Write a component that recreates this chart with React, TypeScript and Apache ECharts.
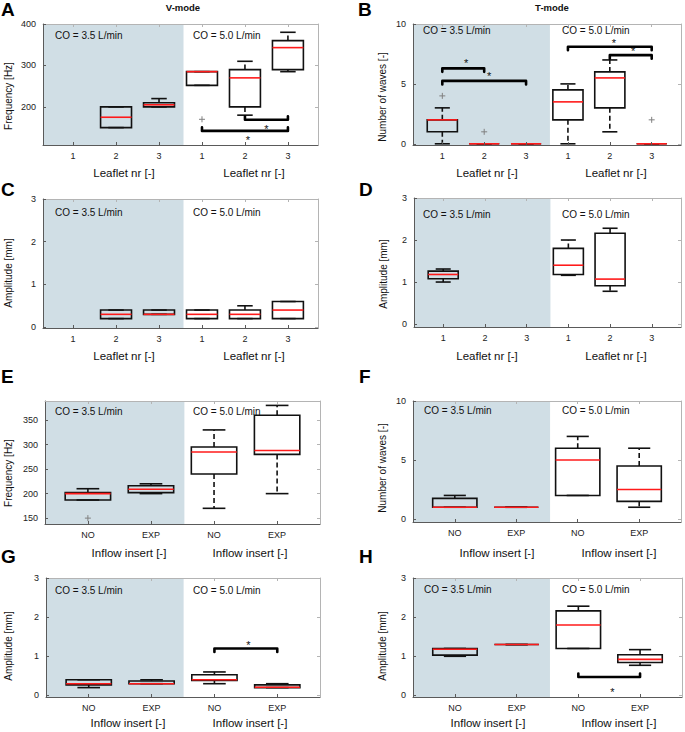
import React, { useEffect, useRef } from "react";
import * as echarts from "echarts";

// ---------- DATA ----------
const leafletLabels = ["1", "2", "3", "1", "2", "3"];
const inflowLabels = ["NO", "EXP", "NO", "EXP"];

// boxes: [position, lower whisker, Q1, median, Q3, upper whisker]
// brackets: [x1, x2, level, starX, starY, endsDirection(+1 up / -1 down)]

// A: V-mode frequency per leaflet
const freqLeafletYTicks = [200, 300, 400];
const freqLeafletBoxes = [
  [2, 150, 150, 175, 200, 200],
  [3, 200, 200, 205, 210, 220],
  [4, 252, 252, 285, 285, 285],
  [5, 180, 200, 270, 290, 310],
  [6, 285, 290, 343, 360, 380],
];
const freqLeafletOutliers = [[4, 170]];
const freqLeafletBrackets = [
  [5, 6, 169, 5.5, 152, 1],
  [4, 6, 142, 5.07, 125, 1],
];

// B: T-mode number of waves per leaflet
const wavesLeafletYTicks = [0, 5, 10];
const wavesLeafletBoxes = [
  [1, 0, 1, 2, 2, 3],
  [2, 0, 0, 0, 0, 0],
  [3, 0, 0, 0, 0, 0],
  [4, 0, 2, 3.5, 4.5, 5],
  [5, 1, 3, 5.5, 6, 7],
  [6, 0, 0, 0, 0, 0],
];
const wavesLeafletOutliers = [[1, 4], [2, 1], [6, 2]];
const wavesLeafletBrackets = [
  [1, 2, 6.3, 1.57, 6.95, -1],
  [1, 3, 5.25, 2.12, 5.85, -1],
  [4, 6, 8.1, 5.1, 8.6, -1],
  [5, 6, 7.4, 5.56, 7.9, -1],
];

// C: V-mode amplitude per leaflet
const ampVLeafletYTicks = [0, 1, 2, 3];
const ampVLeafletBoxes = [
  [2, 0.2, 0.2, 0.3, 0.4, 0.4],
  [3, 0.3, 0.3, 0.3, 0.4, 0.4],
  [4, 0.2, 0.2, 0.3, 0.4, 0.4],
  [5, 0.2, 0.2, 0.3, 0.4, 0.5],
  [6, 0.2, 0.2, 0.4, 0.6, 0.6],
];

// D: T-mode amplitude per leaflet
const ampTLeafletYTicks = [0, 1, 2, 3];
const ampTLeafletBoxes = [
  [1, 1.0, 1.08, 1.18, 1.26, 1.31],
  [4, 1.16, 1.18, 1.4, 1.8, 2.0],
  [5, 0.78, 0.91, 1.07, 2.16, 2.28],
];

// E: V-mode frequency per inflow insert
const freqInflowYTicks = [150, 200, 250, 300, 350];
const freqInflowBoxes = [
  [1, 187, 187, 200, 202, 210],
  [2, 200, 202, 209, 216, 220],
  [3, 170, 240, 285, 295, 330],
  [4, 200, 280, 288, 360, 380],
];
const freqInflowOutliers = [[1, 150]];

// F: T-mode number of waves per inflow insert
const wavesInflowYTicks = [0, 5, 10];
const wavesInflowBoxes = [
  [1, 1, 1, 1, 1.75, 2],
  [2, 1, 1, 1, 1, 1],
  [3, 2, 2, 5, 6, 7],
  [4, 1, 1.5, 2.5, 4.5, 6],
];

// G: V-mode amplitude per inflow insert
const ampVInflowYTicks = [0, 1, 2, 3];
const ampVInflowBoxes = [
  [1, 0.2, 0.27, 0.3, 0.4, 0.4],
  [2, 0.3, 0.3, 0.3, 0.37, 0.4],
  [3, 0.3, 0.38, 0.4, 0.53, 0.6],
  [4, 0.2, 0.2, 0.21, 0.27, 0.3],
];
const ampVInflowBrackets = [[3, 4, 1.2, 3.54, 1.34, -1]];

// H: T-mode amplitude per inflow insert
const ampTInflowYTicks = [0, 1, 2, 3];
const ampTInflowBoxes = [
  [1, 1.0, 1.03, 1.18, 1.2, 1.2],
  [2, 1.3, 1.3, 1.3, 1.3, 1.3],
  [3, 1.2, 1.2, 1.8, 2.16, 2.28],
  [4, 0.77, 0.84, 0.92, 1.04, 1.17],
];
const ampTInflowBrackets = [[3, 4, 0.47, 3.55, 0.15, 1]];

const coLow = "CO = 3.5 L/min";
const coHigh = "CO = 5.0 L/min";

// ---------- LAYOUT ----------
const FONT = "'Liberation Sans', Arial, Helvetica, sans-serif";
const BOX_W = 0.72;
const SHADE = "#d0dee5";

type Panel = {
  letter: string;
  grid: number[];
  xRange: number[];
  yRange: number[];
  yTicks: number[];
  xLabels: string[];
  shadeEnd: number;
  boxes: number[][];
  outliers: number[][];
  brackets: number[][];
  yName: string;
  xName: string;
  letterPos: number[];
  yNamePos: number[];
  xNamePos: number[][];
  coPos: number[][];
};

const panels: Panel[] = [
  {
    letter: "A", grid: [43, 24, 275, 121], xRange: [0.3, 6.7], yRange: [108, 400],
    yTicks: freqLeafletYTicks, xLabels: leafletLabels, shadeEnd: 3.57,
    boxes: freqLeafletBoxes, outliers: freqLeafletOutliers, brackets: freqLeafletBrackets,
    yName: "Frequency [Hz]", xName: "Leaflet nr [-]",
    letterPos: [1, 9], yNamePos: [8, 96], xNamePos: [[124, 173], [254, 173]], coPos: [[55, 35], [193, 35]],
  },
  {
    letter: "B", grid: [413, 24, 268, 121], xRange: [0.3, 6.7], yRange: [-0.1, 10],
    yTicks: wavesLeafletYTicks, xLabels: leafletLabels, shadeEnd: 3.57,
    boxes: wavesLeafletBoxes, outliers: wavesLeafletOutliers, brackets: wavesLeafletBrackets,
    yName: "Number of waves [-]", xName: "Leaflet nr [-]",
    letterPos: [358, 9], yNamePos: [382, 97], xNamePos: [[487, 173], [616, 173]], coPos: [[423, 30], [562, 30]],
  },
  {
    letter: "C", grid: [43, 199, 275, 129], xRange: [0.3, 6.7], yRange: [-0.02, 3],
    yTicks: ampVLeafletYTicks, xLabels: leafletLabels, shadeEnd: 3.57,
    boxes: ampVLeafletBoxes, outliers: [], brackets: [],
    yName: "Amplitude [mm]", xName: "Leaflet nr [-]",
    letterPos: [1, 189], yNamePos: [8, 273], xNamePos: [[124, 356], [254, 356]], coPos: [[55, 212], [193, 212]],
  },
  {
    letter: "D", grid: [414, 198, 267, 129], xRange: [0.3, 6.7], yRange: [-0.07, 3],
    yTicks: ampTLeafletYTicks, xLabels: leafletLabels, shadeEnd: 3.57,
    boxes: ampTLeafletBoxes, outliers: [], brackets: [],
    yName: "Amplitude [mm]", xName: "Leaflet nr [-]",
    letterPos: [359, 189], yNamePos: [383, 274], xNamePos: [[487, 356], [616, 356]], coPos: [[423, 214], [562, 214]],
  },
  {
    letter: "E", grid: [45, 401, 275, 123], xRange: [0.32, 4.68], yRange: [138, 389],
    yTicks: freqInflowYTicks, xLabels: inflowLabels, shadeEnd: 2.53,
    boxes: freqInflowBoxes, outliers: freqInflowOutliers, brackets: [],
    yName: "Frequency [Hz]", xName: "Inflow insert [-]",
    letterPos: [1, 376], yNamePos: [8, 473], xNamePos: [[129, 553], [250, 553]], coPos: [[55, 411], [193, 411]],
  },
  {
    letter: "F", grid: [413, 401, 268, 121], xRange: [0.32, 4.68], yRange: [-0.25, 10],
    yTicks: wavesInflowYTicks, xLabels: inflowLabels, shadeEnd: 2.55,
    boxes: wavesInflowBoxes, outliers: [], brackets: [],
    yName: "Number of waves [-]", xName: "Inflow insert [-]",
    letterPos: [359, 376], yNamePos: [382, 468], xNamePos: [[497, 553], [619, 553]], coPos: [[424, 410], [562, 410]],
  },
  {
    letter: "G", grid: [46, 578, 274, 119], xRange: [0.32, 4.68], yRange: [-0.04, 3],
    yTicks: ampVInflowYTicks, xLabels: inflowLabels, shadeEnd: 2.51,
    boxes: ampVInflowBoxes, outliers: [], brackets: ampVInflowBrackets,
    yName: "Amplitude [mm]", xName: "Inflow insert [-]",
    letterPos: [1, 556], yNamePos: [8, 646], xNamePos: [[128, 723], [250, 723]], coPos: [[55, 590], [193, 590]],
  },
  {
    letter: "H", grid: [413, 578, 269, 119], xRange: [0.32, 4.68], yRange: [-0.04, 3],
    yTicks: ampTInflowYTicks, xLabels: inflowLabels, shadeEnd: 2.54,
    boxes: ampTInflowBoxes, outliers: [], brackets: ampTInflowBrackets,
    yName: "Amplitude [mm]", xName: "Inflow insert [-]",
    letterPos: [359, 556], yNamePos: [382, 646], xNamePos: [[488, 723], [619, 723]], coPos: [[424, 589], [562, 589]],
  },
];

// ---------- RENDERERS ----------
function renderShade(params: any, api: any) {
  const cs = params.coordSys;
  const xEnd = api.coord([api.value(1), 0])[0];
  return {
    type: "rect",
    shape: { x: cs.x, y: cs.y, width: xEnd - cs.x, height: cs.height },
    style: { fill: SHADE },
    silent: true,
  };
}

function renderBox(params: any, api: any) {
  const x = api.value(0);
  const lo = api.value(1);
  const q1 = api.value(2);
  const med = api.value(3);
  const q3 = api.value(4);
  const hi = api.value(5);
  const half = api.size([BOX_W, 0])[0] / 2;
  const cap = half / 2;
  const px = api.coord([x, med])[0];
  const Y = (v: number) => api.coord([x, v])[1];
  const stroke = { stroke: "#111", lineWidth: 1.6, fill: "none" };
  const children: any[] = [];
  if (hi > q3)
    children.push({ type: "line", shape: { x1: px, y1: Y(q3), x2: px, y2: Y(hi) }, style: { ...stroke, lineDash: [5, 3] } });
  if (lo < q1)
    children.push({ type: "line", shape: { x1: px, y1: Y(q1), x2: px, y2: Y(lo) }, style: { ...stroke, lineDash: [5, 3] } });
  children.push({ type: "line", shape: { x1: px - cap, y1: Y(hi), x2: px + cap, y2: Y(hi) }, style: stroke });
  children.push({ type: "line", shape: { x1: px - cap, y1: Y(lo), x2: px + cap, y2: Y(lo) }, style: stroke });
  children.push({
    type: "rect",
    shape: { x: px - half, y: Y(q3), width: 2 * half, height: Y(q1) - Y(q3) },
    style: stroke,
  });
  children.push({
    type: "line",
    shape: { x1: px - half, y1: Y(med), x2: px + half, y2: Y(med) },
    style: { stroke: "#ff1a1a", lineWidth: 1.6 },
  });
  return { type: "group", children };
}

function renderOutlier(params: any, api: any) {
  const [px, py] = api.coord([api.value(0), api.value(1)]);
  const a = 3;
  const st = { stroke: "#808080", lineWidth: 1 };
  return {
    type: "group",
    children: [
      { type: "line", shape: { x1: px - a, y1: py, x2: px + a, y2: py }, style: st },
      { type: "line", shape: { x1: px, y1: py - a, x2: px, y2: py + a }, style: st },
    ],
  };
}

function renderBracket(params: any, api: any) {
  const x1 = api.value(0);
  const x2 = api.value(1);
  const lvl = api.value(2);
  const sx = api.value(3);
  const sy = api.value(4);
  const dir = api.value(5);
  const p1 = api.coord([x1, lvl]);
  const p2 = api.coord([x2, lvl]);
  const end = p1[1] - dir * 3.5;
  const s = api.coord([sx, sy]);
  return {
    type: "group",
    children: [
      {
        type: "polyline",
        shape: { points: [[p1[0], end], [p1[0], p1[1]], [p2[0], p2[1]], [p2[0], end]] },
        style: { stroke: "#000", lineWidth: 2.6, fill: "none", lineJoin: "round", lineCap: "round" },
      },
      {
        type: "text",
        x: s[0],
        y: s[1] + 2,
        style: { text: "*", fontSize: 11, fill: "#111", align: "center", verticalAlign: "middle", fontFamily: FONT },
      },
    ],
  };
}

function buildOption() {
  const grid: any[] = [];
  const xAxis: any[] = [];
  const yAxis: any[] = [];
  const series: any[] = [];
  const graphic: any[] = [];

  panels.forEach((p, i) => {
    const [l, t, w, h] = p.grid;
    grid.push({ left: l, top: t, width: w, height: h, containLabel: false, outerBoundsMode: "none" });
    const xTicks = p.xLabels.map((_, k) => k + 1);
    const dark = { color: "#5a5a5a", width: 1 };
    const light = { color: "#b4b4b4", width: 1 };
    xAxis.push({
      gridIndex: i, type: "value", position: "bottom", min: p.xRange[0], max: p.xRange[1], z: 5,
      axisLine: { show: true, onZero: false, lineStyle: dark },
      axisTick: { show: true, inside: true, length: 3, customValues: xTicks, lineStyle: dark },
      axisLabel: {
        show: true, customValues: xTicks, fontSize: 9, color: "#222", fontFamily: FONT, margin: 6,
        formatter: (v: number) => p.xLabels[Math.round(v) - 1] ?? "",
      },
      splitLine: { show: false },
    });
    xAxis.push({
      gridIndex: i, type: "value", position: "top", min: p.xRange[0], max: p.xRange[1], z: 5,
      axisLine: { show: true, onZero: false, lineStyle: light },
      axisTick: { show: true, inside: true, length: 3, customValues: xTicks, lineStyle: light },
      axisLabel: { show: false },
      splitLine: { show: false },
    });
    yAxis.push({
      gridIndex: i, type: "value", position: "left", min: p.yRange[0], max: p.yRange[1], z: 5,
      axisLine: { show: true, onZero: false, lineStyle: dark },
      axisTick: { show: true, inside: true, length: 3, customValues: p.yTicks, lineStyle: dark },
      axisLabel: { show: true, customValues: p.yTicks, fontSize: 9, color: "#222", fontFamily: FONT, margin: 7 },
      splitLine: { show: false },
    });
    yAxis.push({
      gridIndex: i, type: "value", position: "right", min: p.yRange[0], max: p.yRange[1], z: 5,
      axisLine: { show: true, onZero: false, lineStyle: light },
      axisTick: { show: true, inside: true, length: 3, customValues: p.yTicks, lineStyle: light },
      axisLabel: { show: false },
      splitLine: { show: false },
    });
    const ax = { xAxisIndex: 2 * i, yAxisIndex: 2 * i };
    series.push({ type: "custom", ...ax, z: 1, silent: true, renderItem: renderShade, data: [[p.xRange[0], p.shadeEnd]] });
    series.push({ type: "custom", ...ax, z: 3, renderItem: renderBox, data: p.boxes });
    if (p.outliers.length) series.push({ type: "custom", ...ax, z: 3, renderItem: renderOutlier, data: p.outliers });
    if (p.brackets.length) series.push({ type: "custom", ...ax, z: 4, renderItem: renderBracket, data: p.brackets });

    graphic.push({
      type: "text", left: p.letterPos[0], x: p.letterPos[0], y: p.letterPos[1],
      style: { text: p.letter, fontSize: 19, fontWeight: "bold", fill: "#000", fontFamily: FONT, align: "left", verticalAlign: "middle" },
    });
    graphic.push({
      type: "text", x: p.yNamePos[0], y: p.yNamePos[1], rotation: Math.PI / 2,
      style: { text: p.yName, fontSize: 10, fill: "#111", fontFamily: FONT, align: "center", verticalAlign: "middle" },
    });
    p.xNamePos.forEach((pos) =>
      graphic.push({
        type: "text", x: pos[0], y: pos[1],
        style: { text: p.xName, fontSize: 11.5, fill: "#111", fontFamily: FONT, align: "center", verticalAlign: "middle" },
      })
    );
    [coLow, coHigh].forEach((txt, k) =>
      graphic.push({
        type: "text", x: p.coPos[k][0], y: p.coPos[k][1], z: 10,
        style: { text: txt, fontSize: 10, fill: "#111", fontFamily: FONT, align: "left", verticalAlign: "middle" },
      })
    );
  });

  graphic.push({
    type: "text", x: 183, y: 7,
    style: { text: "V-mode", fontSize: 9.5, fontWeight: "bold", fill: "#111", fontFamily: FONT, align: "center", verticalAlign: "middle" },
  });
  graphic.push({
    type: "text", x: 552, y: 7,
    style: { text: "T-mode", fontSize: 9.5, fontWeight: "bold", fill: "#111", fontFamily: FONT, align: "center", verticalAlign: "middle" },
  });

  // remove stray 'left' prop from letter texts (use x positioning only)
  graphic.forEach((g) => { delete g.left; });

  return {
    animation: false,
    backgroundColor: "#ffffff",
    textStyle: { fontFamily: FONT },
    grid,
    xAxis,
    yAxis,
    series,
    graphic: { elements: graphic },
  };
}

export default function App() {
  const ref = useRef<HTMLDivElement>(null);
  useEffect(() => {
    if (!ref.current) return;
    const chart = echarts.init(ref.current, undefined, { renderer: "svg" });
    chart.setOption(buildOption() as any);
    return () => chart.dispose();
  }, []);
  return (
    <div
      ref={ref}
      style={{ position: "absolute", left: 0, top: 0, width: 685, height: 732, background: "#fff" }}
    />
  );
}
